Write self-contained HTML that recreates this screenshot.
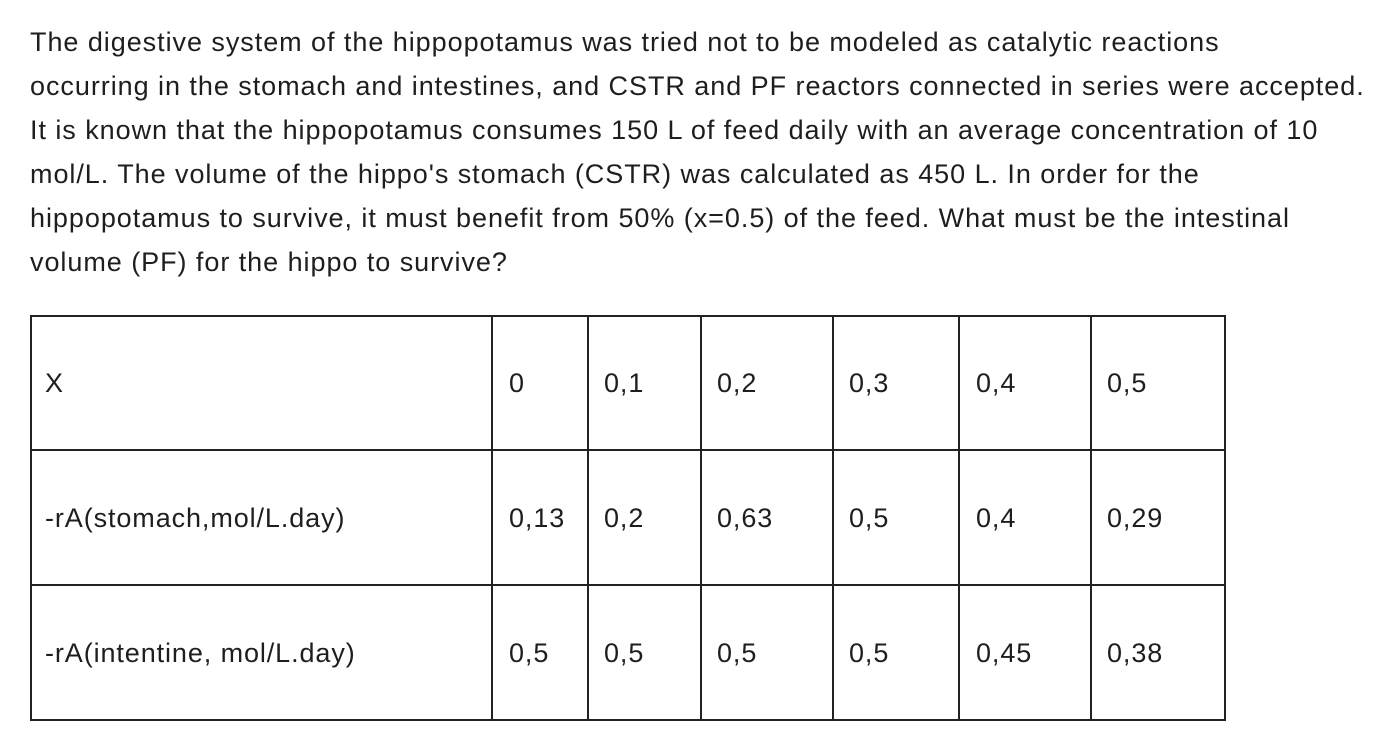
<!DOCTYPE html>
<html><head><meta charset="utf-8"><style>
body{margin:0;background:#fff;width:1398px;height:735px;overflow:hidden;position:relative;font-family:"Liberation Sans",sans-serif;color:#1e1e1e;}
.l{position:absolute;left:30px;font-size:27px;letter-spacing:0.95px;white-space:nowrap;line-height:30px;}
.c{position:absolute;font-size:27px;letter-spacing:0.9px;line-height:30px;white-space:nowrap;}
</style></head><body>
<div class="l" style="top:27px">The digestive system of the hippopotamus was tried not to be modeled as catalytic reactions</div>
<div class="l" style="top:71px">occurring in the stomach and intestines, and CSTR and PF reactors connected in series were accepted.</div>
<div class="l" style="top:115px">It is known that the hippopotamus consumes 150 L of feed daily with an average concentration of 10</div>
<div class="l" style="top:159px">mol/L. The volume of the hippo's stomach (CSTR) was calculated as 450 L. In order for the</div>
<div class="l" style="top:203px">hippopotamus to survive, it must benefit from 50% (x=0.5) of the feed. What must be the intestinal</div>
<div class="l" style="top:247px">volume (PF) for the hippo to survive?</div>
<svg style="position:absolute;left:0;top:0" width="1398" height="735">
<g stroke="#222" stroke-width="2" fill="none">
<rect x="31" y="316" width="1194" height="404"/>
<line x1="31" y1="450" x2="1225" y2="450"/>
<line x1="31" y1="585" x2="1225" y2="585"/>
<line x1="492" y1="316" x2="492" y2="720"/>
<line x1="588" y1="316" x2="588" y2="720"/>
<line x1="701" y1="316" x2="701" y2="720"/>
<line x1="833" y1="316" x2="833" y2="720"/>
<line x1="959" y1="316" x2="959" y2="720"/>
<line x1="1091" y1="316" x2="1091" y2="720"/>
</g></svg>
<div class="c" style="left:45px;top:368px">X</div>
<div class="c" style="left:45px;top:503px">-rA(stomach,mol/L.day)</div>
<div class="c" style="left:45px;top:638px">-rA(intentine, mol/L.day)</div>
<div class="c" style="left:509px;top:368px">0</div>
<div class="c" style="left:604px;top:368px">0,1</div>
<div class="c" style="left:717px;top:368px">0,2</div>
<div class="c" style="left:849px;top:368px">0,3</div>
<div class="c" style="left:976px;top:368px">0,4</div>
<div class="c" style="left:1107px;top:368px">0,5</div>
<div class="c" style="left:509px;top:503px">0,13</div>
<div class="c" style="left:604px;top:503px">0,2</div>
<div class="c" style="left:717px;top:503px">0,63</div>
<div class="c" style="left:849px;top:503px">0,5</div>
<div class="c" style="left:976px;top:503px">0,4</div>
<div class="c" style="left:1107px;top:503px">0,29</div>
<div class="c" style="left:509px;top:638px">0,5</div>
<div class="c" style="left:604px;top:638px">0,5</div>
<div class="c" style="left:717px;top:638px">0,5</div>
<div class="c" style="left:849px;top:638px">0,5</div>
<div class="c" style="left:976px;top:638px">0,45</div>
<div class="c" style="left:1107px;top:638px">0,38</div>
</body></html>
